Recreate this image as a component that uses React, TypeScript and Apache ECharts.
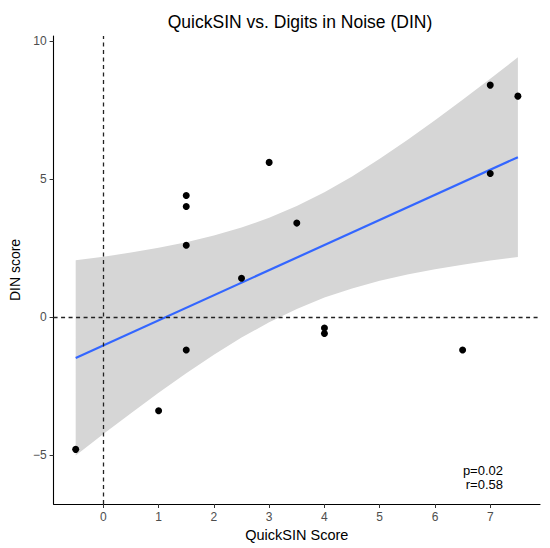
import React, { useEffect, useRef } from "react";
import * as echarts from "echarts";

// Observed data points (QuickSIN score vs DIN score)
const quickSin = [-0.5, 1, 1.5, 1.5, 1.5, 1.5, 2.5, 3, 3.5, 4, 4, 6.5, 7, 7, 7.5];
const dinScore = [-4.8, -3.4, -1.2, 2.6, 4.0, 4.4, 1.4, 5.6, 3.4, -0.4, -0.6, -1.2, 8.4, 5.2, 8.0];

// Fitted regression line end points
const fitX = [-0.5, 7.5];
const fitY = [-1.49, 5.79];

// Confidence band
const ciX = [-0.5, 0, 0.5, 1, 1.5, 2, 2.5, 3, 3.5, 4, 4.5, 5, 5.5, 6, 6.5, 7, 7.5];
const ciUpper = [2.05, 2.18, 2.33, 2.51, 2.71, 2.95, 3.24, 3.59, 4.02, 4.52, 5.09, 5.73, 6.41, 7.13, 7.87, 8.63, 9.41];
const ciLower = [-5.02, -4.24, -3.49, -2.75, -2.04, -1.37, -0.75, -0.19, 0.29, 0.7, 1.03, 1.31, 1.54, 1.73, 1.89, 2.04, 2.17];

// Tick labels
const xTicks = [0, 1, 2, 3, 4, 5, 6, 7];
const yTicks = [-5, 0, 5, 10];

const titleText = "QuickSIN vs. Digits in Noise (DIN)";
const xName = "QuickSIN Score";
const yName = "DIN score";
const statsLines = ["p=0.02", "r=0.58"];

const FONT = "'Liberation Sans', Arial, Helvetica, sans-serif";

export default function App() {
  const ref = useRef<HTMLDivElement>(null);

  useEffect(() => {
    if (!ref.current) return;
    const chart = echarts.init(ref.current, undefined, { renderer: "svg" });
    const minus = (v: number) => String(v).replace("-", "\u2212");

    const option: any = {
      animation: false,
      backgroundColor: "#ffffff",
      textStyle: { fontFamily: FONT },
      title: {
        text: titleText,
        left: 295,
        top: 8,
        textAlign: "center",
        textStyle: { fontSize: 17.5, fontWeight: "normal", color: "#000", fontFamily: FONT },
      },
      grid: { left: 50.7, right: 10, top: 36, bottom: 44, containLabel: false },
      xAxis: {
        type: "value",
        min: -0.9,
        max: 7.9,
        name: xName,
        nameLocation: "middle",
        nameGap: 16,
        nameTextStyle: { fontSize: 14.5, color: "#000", fontFamily: FONT },
        axisLine: { show: true, onZero: false, lineStyle: { color: "#000", width: 1.1 } },
        axisTick: { show: true, customValues: xTicks, length: 4, lineStyle: { color: "#333", width: 1 } },
        axisLabel: { customValues: xTicks, color: "#4d4d4d", fontSize: 12, margin: 7, fontFamily: FONT, formatter: minus },
        splitLine: { show: false },
      },
      yAxis: {
        type: "value",
        min: -6.78,
        max: 10.18,
        name: yName,
        nameLocation: "middle",
        nameGap: 23,
        nameTextStyle: { fontSize: 14, color: "#000", fontFamily: FONT },
        axisLine: { show: true, onZero: false, lineStyle: { color: "#000", width: 1.1 } },
        axisTick: { show: true, customValues: yTicks, length: 4, lineStyle: { color: "#333", width: 1 } },
        axisLabel: { customValues: yTicks, color: "#4d4d4d", fontSize: 12, margin: 7, fontFamily: FONT, formatter: minus },
        splitLine: { show: false },
      },
      series: [
        {
          type: "custom",
          z: 1,
          silent: true,
          data: ciX.map((x, i) => [x, ciUpper[i], ciLower[i]]),
          encode: { x: 0, y: [1, 2] },
          renderItem: (params: any, api: any) => {
            if (params.dataIndex !== 0) return null;
            const pts: number[][] = [];
            for (let i = 0; i < ciX.length; i++) pts.push(api.coord([ciX[i], ciUpper[i]]));
            for (let i = ciX.length - 1; i >= 0; i--) pts.push(api.coord([ciX[i], ciLower[i]]));
            return { type: "polygon", shape: { points: pts }, style: { fill: "#d6d6d6" } };
          },
        },
        {
          type: "line",
          z: 2,
          data: [],
          markLine: {
            silent: true,
            symbol: "none",
            label: { show: false },
            lineStyle: { color: "#222", width: 1.3, type: [4, 3.5] },
            data: [{ xAxis: 0 }, { yAxis: 0 }],
          },
        },
        {
          type: "line",
          z: 3,
          data: fitX.map((x, i) => [x, fitY[i]]),
          showSymbol: false,
          lineStyle: { color: "#3366FF", width: 2.2 },
        },
        {
          type: "scatter",
          z: 4,
          data: quickSin.map((x, i) => [x, dinScore[i]]),
          symbolSize: 7,
          itemStyle: { color: "#000", opacity: 1 },
        },
      ],
      graphic: statsLines.map((t, i) => ({
        type: "text",
        x: 503,
        y: 470 + i * 14,
        z: 10,
        style: {
          text: t,
          fill: "#000",
          font: `13px ${FONT}`,
          align: "right",
          verticalAlign: "middle",
        },
      })),
    };
    chart.setOption(option);
    return () => chart.dispose();
  }, []);

  return (
    <div
      ref={ref}
      style={{ position: "absolute", left: 0, top: 0, width: 550, height: 548 }}
    />
  );
}
